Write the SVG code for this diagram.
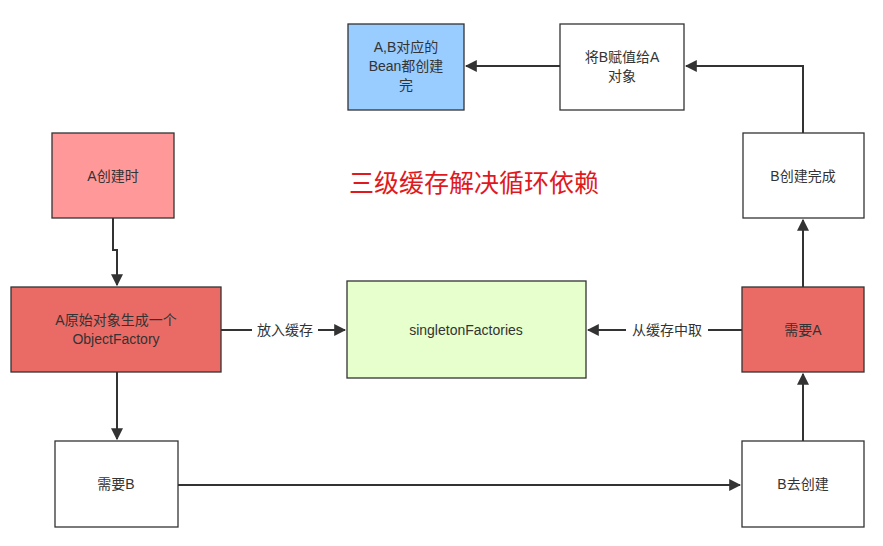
<svg xmlns="http://www.w3.org/2000/svg" width="883" height="546" viewBox="0 0 883 546">
<style>
.n{stroke:#333;stroke-width:1.3}
.t{font-family:"Liberation Sans","Noto Sans CJK SC",sans-serif;font-size:14px;fill:#333;text-anchor:middle}
.c{fill:none;stroke:#333;stroke-width:2}
.l{font-family:"Liberation Sans","Noto Sans CJK SC",sans-serif;font-size:14px;fill:#333;text-anchor:middle}
</style>
<defs><marker id="a" viewBox="0 0 10 10" refX="9" refY="5" markerWidth="6" markerHeight="6" orient="auto"><path d="M0,0 L10,5 L0,10 z" fill="#333"/></marker></defs>
<rect width="883" height="546" fill="#fff"/>
<g id="connectors">
<path class="c" marker-end="url(#a)" d="M113 218 V250 H117 V285"/>
<path class="c" marker-end="url(#a)" d="M221 330 H345"/>
<rect x="252" y="320" width="66" height="20" fill="#fff"/>
<text class="l" x="285" y="335">放入缓存</text>
<path class="c" marker-end="url(#a)" d="M742 330 H588"/>
<rect x="626" y="320" width="82" height="20" fill="#fff"/>
<text class="l" x="667" y="335">从缓存中取</text>
<path class="c" marker-end="url(#a)" d="M117 372 V439"/>
<path class="c" marker-end="url(#a)" d="M178 485 H740"/>
<path class="c" marker-end="url(#a)" d="M803 441 V374"/>
<path class="c" marker-end="url(#a)" d="M803 287 V220"/>
<path class="c" marker-end="url(#a)" d="M803 133 V66 H686"/>
<path class="c" marker-end="url(#a)" d="M560 66 H466"/>
</g>
<g id="n1"><rect class="n" x="348" y="24" width="116" height="86" fill="#99ccff"/><text class="t" x="406" y="52">A,B对应的</text><text class="t" x="406" y="71">Bean都创建</text><text class="t" x="406" y="90">完</text></g>
<g id="n2"><rect class="n" x="560" y="24" width="124" height="86" fill="#fff"/><text class="t" x="622" y="62">将B赋值给A</text><text class="t" x="622" y="81">对象</text></g>
<g id="n3"><rect class="n" x="743" y="133" width="121" height="85" fill="#fff"/><text class="t" x="803" y="181">B创建完成</text></g>
<g id="n4"><rect class="n" x="52" y="133" width="122" height="85" fill="#ff9999"/><text class="t" x="113" y="181">A创建时</text></g>
<text x="474" y="192" font-family="Liberation Sans,Noto Sans CJK SC,sans-serif" font-size="25" fill="#e0191e" text-anchor="middle">三级缓存解决循环依赖</text>
<g id="n5"><rect class="n" x="11" y="287" width="210" height="85" fill="#ea6b66"/><text class="t" x="116" y="325">A原始对象生成一个</text><text class="t" x="116" y="344">ObjectFactory</text></g>
<g id="n6"><rect class="n" x="347" y="281" width="239" height="97" fill="#e6ffcc"/><text class="t" x="466" y="335">singletonFactories</text></g>
<g id="n7"><rect class="n" x="742" y="287" width="122" height="85" fill="#ea6b66"/><text class="t" x="803" y="335">需要A</text></g>
<g id="n8"><rect class="n" x="55" y="441" width="123" height="86" fill="#fff"/><text class="t" x="116" y="489">需要B</text></g>
<g id="n9"><rect class="n" x="742" y="441" width="122" height="86" fill="#fff"/><text class="t" x="803" y="489">B去创建</text></g>
</svg>
